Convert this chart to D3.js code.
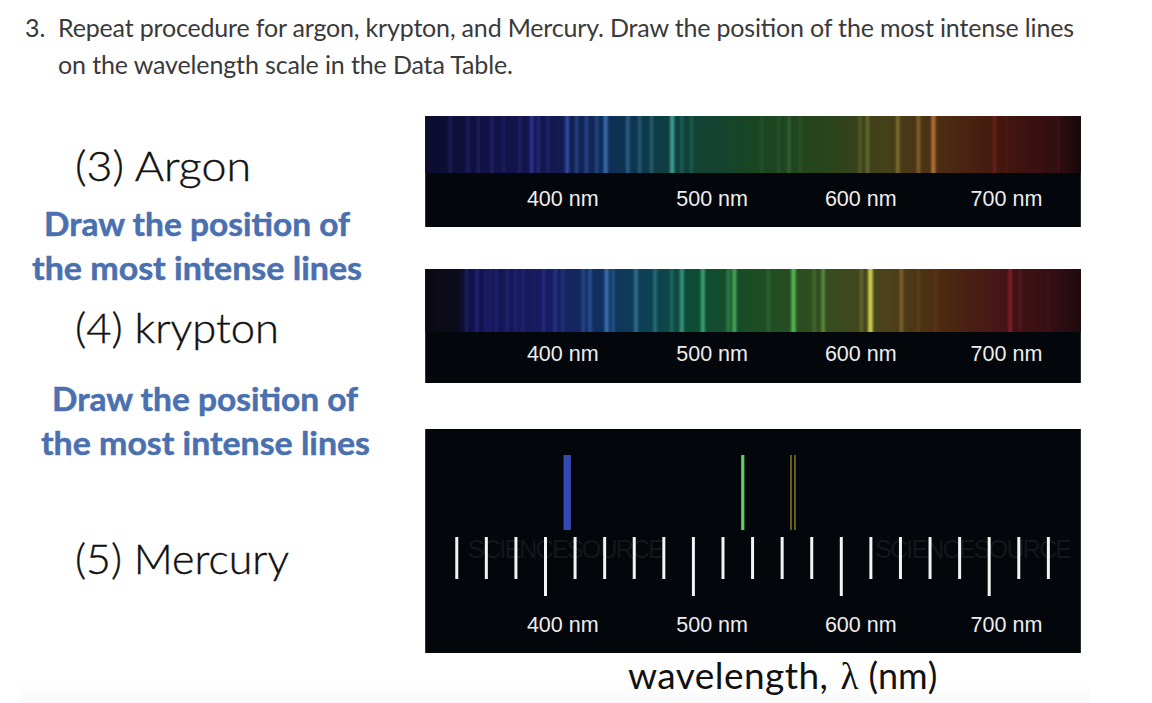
<!DOCTYPE html>
<html>
<head>
<meta charset="utf-8">
<script src="https://cdn.jsdelivr.net/npm/d3@7"></script>
<style>
  body { margin: 0; background: #fff; }
  svg { display: block; }
  text { font-family: Lato, sans-serif; }
  .nm { font-family: "Liberation Sans", Arial, sans-serif; font-size: 21.5px; fill: #eeeeee; text-anchor: middle; }
  .blue { font-weight: 700; font-size: 33px; fill: #4a70b0; stroke: #4a70b0; stroke-width: .5px; }
  .name { font-size: 42px; font-weight: 300; fill: #111; stroke: #111; stroke-width: .4px; }
</style>
</head>
<body>
<svg id="chart" width="1152" height="703"></svg>
<script>
// values, all in nm
var tickLabels = [400, 500, 600, 700];
var labelNm = [412, 513, 613.5, 712];
var tickValues = d3.range(340, 741, 20);

var argonLines = [336, 348, 355, 364, 372, 383, 391, 395.5, 402, 415, 421.4, 428, 435, 441, 456, 464, 472, 486, 492.5, 499,
	546.5, 558, 565, 572.5, 613, 618, 638.5, 652.5, 662.6, 704, 712, 735, 747];
var argonStrength = [.3, .3, .25, .3, .2, .25, .6, .35, .25, .65, .4, .4, .35, .7, .45, .35, .35, .8, .25, .2,
	.12, .12, .25, .12, .2, .3, .45, .5, .8, .35, .12, .1, .15];

var kryptonLines = [347, 354, 360, 363, 367, 374.5, 380, 385, 399, 407, 412, 426, 430.4, 441.7, 446, 461.5, 474.4, 485.7, 492.5, 506.7, 524, 528,
	551, 568, 582, 588, 614, 620, 641, 652.5, 664, 714.5, 721, 740];
var kryptonStrength = [.3, .35, .25, .25, .25, .25, .2, .2, .3, .35, .25, .4, .45, .7, .35, .5, .4, .3, .65, .7, .4, .75,
	.2, .9, .25, .5, .25, 1, .4, .12, .1, .55, .2, .1];

var mercuryLines = [415, 533.7, 566.3, 569];
var mercuryWidths = [5, 2.2, 1, 1];

var argonBgNm = [319, 360, 400, 440, 470, 500, 540, 590, 630, 670, 710, 745, 762];
var kryptonBgNm = [319, 340, 350, 400, 440, 470, 500, 540, 590, 630, 670, 710, 745, 762];

var argonBgColors = ["#0c0c2c", "#121244", "#14164e", "#0f2c58", "#0d3a48", "#104338", "#194522", "#28441c", "#46401a", "#4c2c12", "#42160e", "#320e12", "#18070a"];
var kryptonBgColors = ["#0b0a12", "#0c0b1a", "#11114c", "#181d62", "#0f305e", "#0e4254", "#0e4c36", "#1a4d24", "#354d20", "#4c421b", "#4c2a12", "#461316", "#320f14", "#1d0a0e"];

// colour of a bright line at a given wavelength
var lineNm = [340, 400, 440, 470, 500, 530, 570, 620, 650, 665, 705, 745];
var lineColors = ["#4a48c8", "#4a58e0", "#5a9cf0", "#58c0d0", "#58e0b0", "#60e070", "#60e060", "#f2f05a", "#d8a050", "#f09040", "#d83030", "#a03040"];

var width = 1152, height = 703;
var x = d3.scaleLinear().domain([400, 700]).range([545, 988.7]);
var lineColor = d3.scaleLinear().domain(lineNm).range(lineColors);
var bandLeft = x(319), bandRight = x(762.3);

var svg = d3.select("#chart");
var defs = svg.append("defs");
defs.append("filter").attr("id", "soft")
	.attr("x", "-5%").attr("width", "110%")
	.append("feGaussianBlur").attr("stdDeviation", "0.9 0");
defs.append("filter").attr("id", "softer")
	.attr("x", "-5%").attr("width", "110%")
	.append("feGaussianBlur").attr("stdDeviation", "0.4 0");

// faint band along the foot of the screenshot
var foot = defs.append("linearGradient").attr("id", "foot")
	.attr("x1", 0).attr("x2", 0).attr("y1", 0).attr("y2", 1);
foot.append("stop").attr("offset", 0).attr("stop-color", "#ffffff");
foot.append("stop").attr("offset", 1).attr("stop-color", "#f9f9f9");
svg.append("rect").attr("x", 20).attr("y", 682).attr("width", 1070).attr("height", 21).attr("fill", "url(#foot)");

// page text
var intro = svg.append("g").style("font-size", "25px").style("fill", "#3a3a3a");
intro.append("text").attr("x", 25).attr("y", 37).text("3.");
intro.append("text").attr("x", 58).attr("y", 37).attr("textLength", 1016).text("Repeat procedure for argon, krypton, and Mercury. Draw the position of the most intense lines");
intro.append("text").attr("x", 58).attr("y", 74).attr("textLength", 455).text("on the wavelength scale in the Data Table.");

function nameText(label, y, len){
	svg.append("text").attr("class", "name").attr("x", 75).attr("y", y)
		.attr("textLength", len).attr("lengthAdjust", "spacingAndGlyphs").text(label);
}
nameText("(3) Argon", 181, 176);
nameText("(4) krypton", 343, 204);
nameText("(5) Mercury", 574, 214);

function blueText(label, left, y, len){
	svg.append("text").attr("class", "blue").attr("x", left).attr("y", y)
		.attr("textLength", len).attr("lengthAdjust", "spacingAndGlyphs").text(label);
}
blueText("Draw the position of", 44, 236, 306);
blueText("the most intense lines", 32, 280, 330);
blueText("Draw the position of", 52, 411, 306);
blueText("the most intense lines", 41, 455, 329);

function drawLabels(g, labelY){
	g.selectAll("text.nm").data(tickLabels).enter().append("text")
		.attr("class", "nm")
		.attr("x", function(d, i){ return x(labelNm[i]); })
		.attr("y", labelY)
		.text(function(d){ return d + " nm"; });
}

function drawSpectrum(id, top, bandBottom, bottom, labelY, bgNm, bgColors, lines, strength){
	var g = svg.append("g").attr("class", id);
	g.append("rect").attr("x", bandLeft).attr("y", top)
		.attr("width", bandRight - bandLeft).attr("height", bottom - top)
		.attr("fill", "#03060a");

	var grad = defs.append("linearGradient").attr("id", "bg-" + id)
		.attr("gradientUnits", "userSpaceOnUse")
		.attr("x1", bandLeft).attr("x2", bandRight).attr("y1", 0).attr("y2", 0);
	grad.selectAll("stop").data(bgNm).enter().append("stop")
		.attr("offset", function(d){ return (x(d) - bandLeft) / (bandRight - bandLeft); })
		.attr("stop-color", function(d, i){ return bgColors[i]; });

	g.append("rect").attr("x", bandLeft).attr("y", top)
		.attr("width", bandRight - bandLeft).attr("height", bandBottom - top)
		.attr("fill", "url(#bg-" + id + ")");

	g.append("g").attr("filter", "url(#soft)")
		.selectAll("rect").data(lines).enter().append("rect")
		.attr("x", function(d, i){ return x(d) - (1.3 + strength[i]); })
		.attr("y", top)
		.attr("width", function(d, i){ return 2 * (1.3 + strength[i]); })
		.attr("height", bandBottom - top)
		.attr("fill", function(d){ return lineColor(d); })
		.attr("opacity", function(d, i){ return strength[i] * 0.8; });

	drawLabels(g, labelY);
}

drawSpectrum("argon", 116, 173, 227, 206, argonBgNm, argonBgColors, argonLines, argonStrength);
drawSpectrum("krypton", 269, 332, 383, 361, kryptonBgNm, kryptonBgColors, kryptonLines, kryptonStrength);

// mercury panel: only a few lines, plus the wavelength ruler
var hg = svg.append("g");
hg.append("rect").attr("x", bandLeft).attr("y", 429)
	.attr("width", bandRight - bandLeft).attr("height", 224)
	.attr("fill", "#03060a");

var mercuryColors = ["#3549b4", "#62cc5e", "#8a7c26", "#8a7c26"];
hg.append("g").attr("filter", "url(#softer)")
	.selectAll("rect").data(mercuryLines).enter().append("rect")
	.attr("x", function(d, i){ return x(d - mercuryWidths[i] / 2); })
	.attr("y", 455)
	.attr("width", function(d, i){ return x(mercuryWidths[i]) - x(0); })
	.attr("height", 75)
	.attr("fill", function(d, i){ return mercuryColors[i]; });

hg.selectAll("text.mark").data(["SCIENCESOURCE", "SCIENCESOURCE"]).enter().append("text")
	.attr("class", "mark")
	.attr("x", function(d, i){ return i ? 875 : 468; })
	.attr("y", 558)
	.attr("textLength", 197)
	.style("font-family", "'Liberation Sans', Arial, sans-serif")
	.style("font-size", "25px")
	.attr("fill", "#14161a")
	.text(function(d){ return d; });

var ruler = d3.axisBottom(x).tickValues(tickValues).tickFormat("").tickSizeOuter(0);
var rulerG = hg.append("g").attr("transform", "translate(0,537)").call(ruler);
rulerG.select(".domain").remove();
rulerG.selectAll(".tick line")
	.attr("stroke", "#f4f4f4")
	.attr("stroke-width", 3)
	.attr("y2", function(d){ return tickLabels.indexOf(d) >= 0 ? 59 : 42; });

drawLabels(hg, 632);

var caption = svg.append("text").attr("x", 628).attr("y", 689).style("font-size", "37px").attr("fill", "#111");
caption.append("tspan").style("font-weight", 400).attr("textLength", 200).text("wavelength,");
caption.append("tspan").style("font-family", "'Liberation Serif', serif").attr("dx", 12).text("λ");
caption.append("tspan").style("font-weight", 400).style("font-size", "36px").attr("dx", 10).text("(nm)");
</script>
</body>
</html>
